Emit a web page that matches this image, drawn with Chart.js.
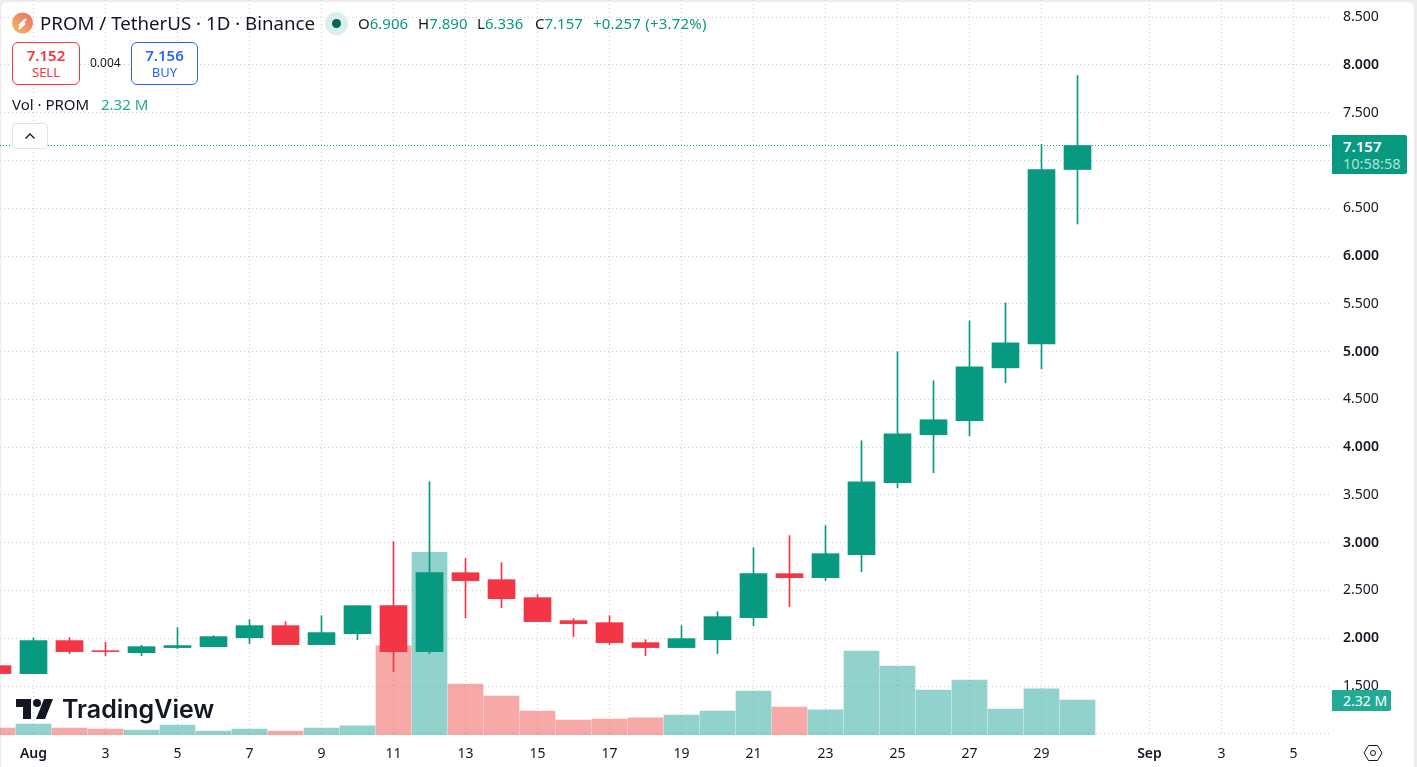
<!DOCTYPE html>
<html>
<head>
<meta charset="utf-8">
<title>PROM / TetherUS</title>
<script src="https://cdn.jsdelivr.net/npm/chart.js@4"></script>
<style>
html, body { margin: 0; padding: 0; background: #ececec; overflow: hidden; }
body { width: 1417px; height: 767px; position: relative; font-family: "Noto Sans", sans-serif; color: #131722; }
#panel { position: absolute; left: 1px; top: 2px; width: 1413px; height: 765px; background: #fff; border-radius: 6px 6px 0 0; }
#myChart { position: absolute; left: 0; top: 0; }
.abs { position: absolute; white-space: nowrap; }
.g { color: #089981; }
.leg { position: absolute; white-space: nowrap; top: 13px; font-size: 15px; line-height: 20px; }
.box { position: absolute; top: 42px; height: 41px; width: 66px; border: 1px solid; border-radius: 6px; background: #fff; text-align: center; }
.box b { display: block; font-size: 15px; line-height: 18px; margin-top: 3px; font-weight: 600; }
.box span { display: block; font-size: 13px; line-height: 17px; }
.tag { position: absolute; left: 1332px; color: #fff; border-radius: 0 2px 2px 0; }
</style>
</head>
<body>
<div id="panel"></div>
<canvas id="myChart" width="1417" height="767"></canvas>

<svg class="abs" style="left:11px;top:12px" width="24" height="24">
  <defs><linearGradient id="coin" x1="0" y1="1" x2="1" y2="0"><stop offset="0" stop-color="#f0c060"/><stop offset="1" stop-color="#ee6a6a"/></linearGradient></defs>
  <circle cx="11.5" cy="11" r="10.5" fill="url(#coin)"/>
  <path d="M8 14 L15 7 M8 17 L14 11" stroke="#fff" stroke-width="2.4" fill="none"/>
</svg>
<div class="abs" style="left:40px;top:10px;font-size:18.7px;line-height:26px">PROM / TetherUS · 1D · Binance</div>
<svg class="abs" style="left:325px;top:12px" width="23" height="23"><circle cx="11.5" cy="11.5" r="11.5" fill="#d9efec"/><circle cx="11.5" cy="11.5" r="4.5" fill="#056656"/></svg>
<div class="leg" style="left:358px">O<span class="g">6.906</span></div>
<div class="leg" style="left:418px">H<span class="g">7.890</span></div>
<div class="leg" style="left:477px">L<span class="g">6.336</span></div>
<div class="leg" style="left:535px">C<span class="g">7.157</span></div>
<div class="leg g" style="left:593px;letter-spacing:.2px">+0.257 (+3.72%)</div>

<div class="box" style="left:12px;border-color:#f23645;color:#f23645"><b>7.152</b><span>SELL</span></div>
<div class="abs" style="left:90px;top:54px;font-size:12px;line-height:17px">0.004</div>
<div class="box" style="left:131px;width:65px;border-color:#2962ff;color:#2962ff"><b>7.156</b><span>BUY</span></div>

<div class="abs" style="left:12px;top:94px;font-size:15px;line-height:20px">Vol · PROM</div>
<div class="abs" style="left:101px;top:94px;font-size:15px;line-height:20px;color:#22ab94">2.32 M</div>

<div class="abs" style="left:12px;top:123px;width:34px;height:24px;border:1px solid #e0e3eb;border-radius:4px;background:#fff">
  <svg width="34" height="24"><path d="M12.5 14.5 L17 10 L21.5 14.5" stroke="#131722" stroke-width="1.4" fill="none"/></svg>
</div>

<svg class="abs" style="left:16px;top:699px" width="38" height="21" fill="#131722">
  <path d="M0 0 H15 V20 H7 V8 H0 Z"/><circle cx="21" cy="4" r="4"/><path d="M28 0 H37 L29 20 H20 Z"/>
</svg>
<div class="abs" style="left:62px;top:692px;font-family:Inter,sans-serif;font-weight:600;font-size:25px;line-height:34px;color:#131722">TradingView</div>

<div class="tag" id="priceTag" style="width:75px;height:39px;background:#089981">
  <div class="abs" style="left:11px;top:2px;font-size:15px;line-height:18px;font-weight:600">7.157</div>
  <div class="abs" style="left:11px;top:19px;font-size:14.5px;line-height:18px;color:#b5e0d8">10:58:58</div>
</div>
<div class="tag" id="volTag" style="width:59px;height:21px;background:#22ab94">
  <div class="abs" style="left:11px;top:1px;font-size:14px;line-height:19px">2.32 M</div>
</div>

<svg class="abs" style="left:1363px;top:744px" width="20" height="18" fill="none" stroke="#131722" stroke-width="1">
  <path d="M1 9 L5.5 1.5 H14.5 L19 9 L14.5 16.5 H5.5 Z"/><circle cx="10" cy="9" r="2.5"/>
</svg>

<script>
var GREEN = '#089981';
var RED = '#f23645';
var VOL_GREEN = 'rgba(38,166,154,0.5)';
var VOL_RED = 'rgba(239,83,80,0.5)';

// day number: 0 = 31 Jul, 1 = 1 Aug ... 30 = 30 Aug
var days = [0,1,2,3,4,5,6,7,8,9,10,11,12,13,14,15,16,17,18,19,20,21,22,23,24,25,26,27,28,29,30];
var opens  = [1.713,1.630,1.975,1.870,1.849,1.902,1.912,2.006,2.132,1.933,2.048,2.341,1.860,2.686,2.613,2.425,2.184,2.163,1.954,1.902,1.985,2.215,2.676,2.634,2.875,3.628,4.130,4.276,4.830,5.080,6.906];
var highs  = [1.713,2.003,2.006,1.957,1.926,2.111,2.027,2.195,2.174,2.236,2.341,3.010,3.638,2.836,2.791,2.456,2.205,2.236,1.985,2.132,2.278,2.948,3.074,3.178,4.067,4.998,4.695,5.322,5.510,7.170,7.890];
var lows   = [1.630,1.630,1.839,1.818,1.818,1.891,1.912,1.944,1.933,1.933,1.985,1.651,1.839,2.215,2.320,2.174,2.017,1.933,1.818,1.902,1.839,2.132,2.331,2.603,2.697,3.576,3.732,4.119,4.674,4.820,6.336];
var closes = [1.630,1.975,1.860,1.860,1.912,1.923,2.017,2.132,1.933,2.059,2.341,1.860,2.686,2.603,2.414,2.174,2.153,1.954,1.902,1.996,2.226,2.676,2.634,2.885,3.638,4.140,4.287,4.841,5.092,6.906,7.157];
var volumes = [0.46,0.73,0.46,0.40,0.33,0.66,0.26,0.40,0.26,0.46,0.60,5.90,12.10,3.38,2.58,1.59,0.99,1.06,1.13,1.32,1.59,2.91,1.85,1.66,5.56,4.57,2.98,3.64,1.72,3.05,2.32];

var dayTicks = [1,3,5,7,9,11,13,15,17,19,21,23,25,27,29,32,34,36];
var dayTickLabels = ['Aug','3','5','7','9','11','13','15','17','19','21','23','25','27','29','Sep','3','5'];
var priceTicks = [1,1.5,2,2.5,3,3.5,4,4.5,5,5.5,6,6.5,7,7.5,8,8.5];
var lastPrice = 7.157;
var lastVolume = 2.32;

// axis ranges picked so a day is 36px and 0.5 is 47.77px
var dayMin = 0.06944, dayMax = 37.06944;
var priceMin = 0.9872, priceMax = 8.6803;
var volMax = 48.68;

var isUp = days.map(function(d, i){ return closes[i] >= opens[i]; });
var candleColors = isUp.map(function(u){ return u ? GREEN : RED; });
var volColors = isUp.map(function(u){ return u ? VOL_GREEN : VOL_RED; });

var tagPlugin = {
    id: 'tags',
    afterDraw: function(chart){
        document.getElementById('priceTag').style.top = Math.round(chart.scales.y.getPixelForValue(lastPrice) - 11) + 'px';
        document.getElementById('volTag').style.top = Math.round(chart.scales.yVol.getPixelForValue(lastVolume) - 10) + 'px';
    }
};

var CHART = document.getElementById('myChart');
var myChart = new Chart(CHART, {
    type: 'bar',
    plugins: [tagPlugin],
    data: {
        datasets: [
            {
                label: 'Last',
                type: 'line',
                order: 0,
                data: [{x: dayMin, y: lastPrice}, {x: dayMax, y: lastPrice}],
                borderColor: GREEN,
                borderWidth: 1,
                borderDash: [1, 2],
                pointRadius: 0,
                yAxisID: 'y'
            },
            {
                label: 'Body',
                order: 1,
                grouped: false,
                barThickness: 27,
                data: days.map(function(d, i){ return {x: d, y: [opens[i], closes[i]]}; }),
                backgroundColor: candleColors,
                yAxisID: 'y'
            },
            {
                label: 'Wick',
                order: 2,
                grouped: false,
                barThickness: 1,
                data: days.map(function(d, i){ return {x: d, y: [lows[i], highs[i]]}; }),
                backgroundColor: candleColors,
                yAxisID: 'y'
            },
            {
                label: 'Volume',
                order: 3,
                grouped: false,
                barThickness: 35,
                data: days.map(function(d, i){ return {x: d, y: volumes[i]}; }),
                backgroundColor: volColors,
                yAxisID: 'yVol'
            }
        ]
    },
    options: {
        responsive: false,
        animation: false,
        devicePixelRatio: 1,
        layout: {padding: 0},
        plugins: {legend: {display: false}, tooltip: {enabled: false}},
        scales: {
            x: {
                type: 'linear',
                offset: false,
                min: dayMin,
                max: dayMax,
                afterBuildTicks: function(scale){
                    scale.ticks = dayTicks.map(function(v){ return {value: v}; });
                },
                afterFit: function(scale){
                    scale.height = 32;
                    scale.paddingLeft = 0;
                    scale.paddingRight = 0;
                },
                grid: {color: '#cccccc', drawTicks: false, offset: false},
                border: {display: false, dash: [1, 3]},
                ticks: {
                    autoSkip: false,
                    maxRotation: 0,
                    padding: 11,
                    color: '#131722',
                    font: function(ctx){
                        var lab = dayTickLabels[dayTicks.indexOf(ctx.tick && ctx.tick.value)];
                        return {family: 'Noto Sans', size: 14, weight: (lab === 'Aug' || lab === 'Sep') ? '600' : '400'};
                    },
                    callback: function(v){ return dayTickLabels[dayTicks.indexOf(v)]; }
                }
            },
            y: {
                position: 'right',
                min: priceMin,
                max: priceMax,
                afterBuildTicks: function(scale){
                    scale.ticks = priceTicks.map(function(v){ return {value: v}; });
                },
                afterFit: function(scale){
                    scale.width = 85;
                    scale.paddingTop = 0;
                    scale.paddingBottom = 0;
                },
                grid: {color: '#cccccc', drawTicks: false},
                border: {display: false, dash: [1, 3]},
                ticks: {
                    autoSkip: false,
                    padding: 11,
                    color: '#131722',
                    font: function(ctx){
                        var v = ctx.tick ? ctx.tick.value : 0;
                        return {family: 'Noto Sans', size: 14, weight: v % 1 === 0 ? '600' : '400'};
                    },
                    callback: function(v){ return v === 1 ? '' : v.toFixed(3); }
                }
            },
            yVol: {
                display: false,
                min: 0,
                max: volMax
            }
        }
    }
});
</script>
</body>
</html>
